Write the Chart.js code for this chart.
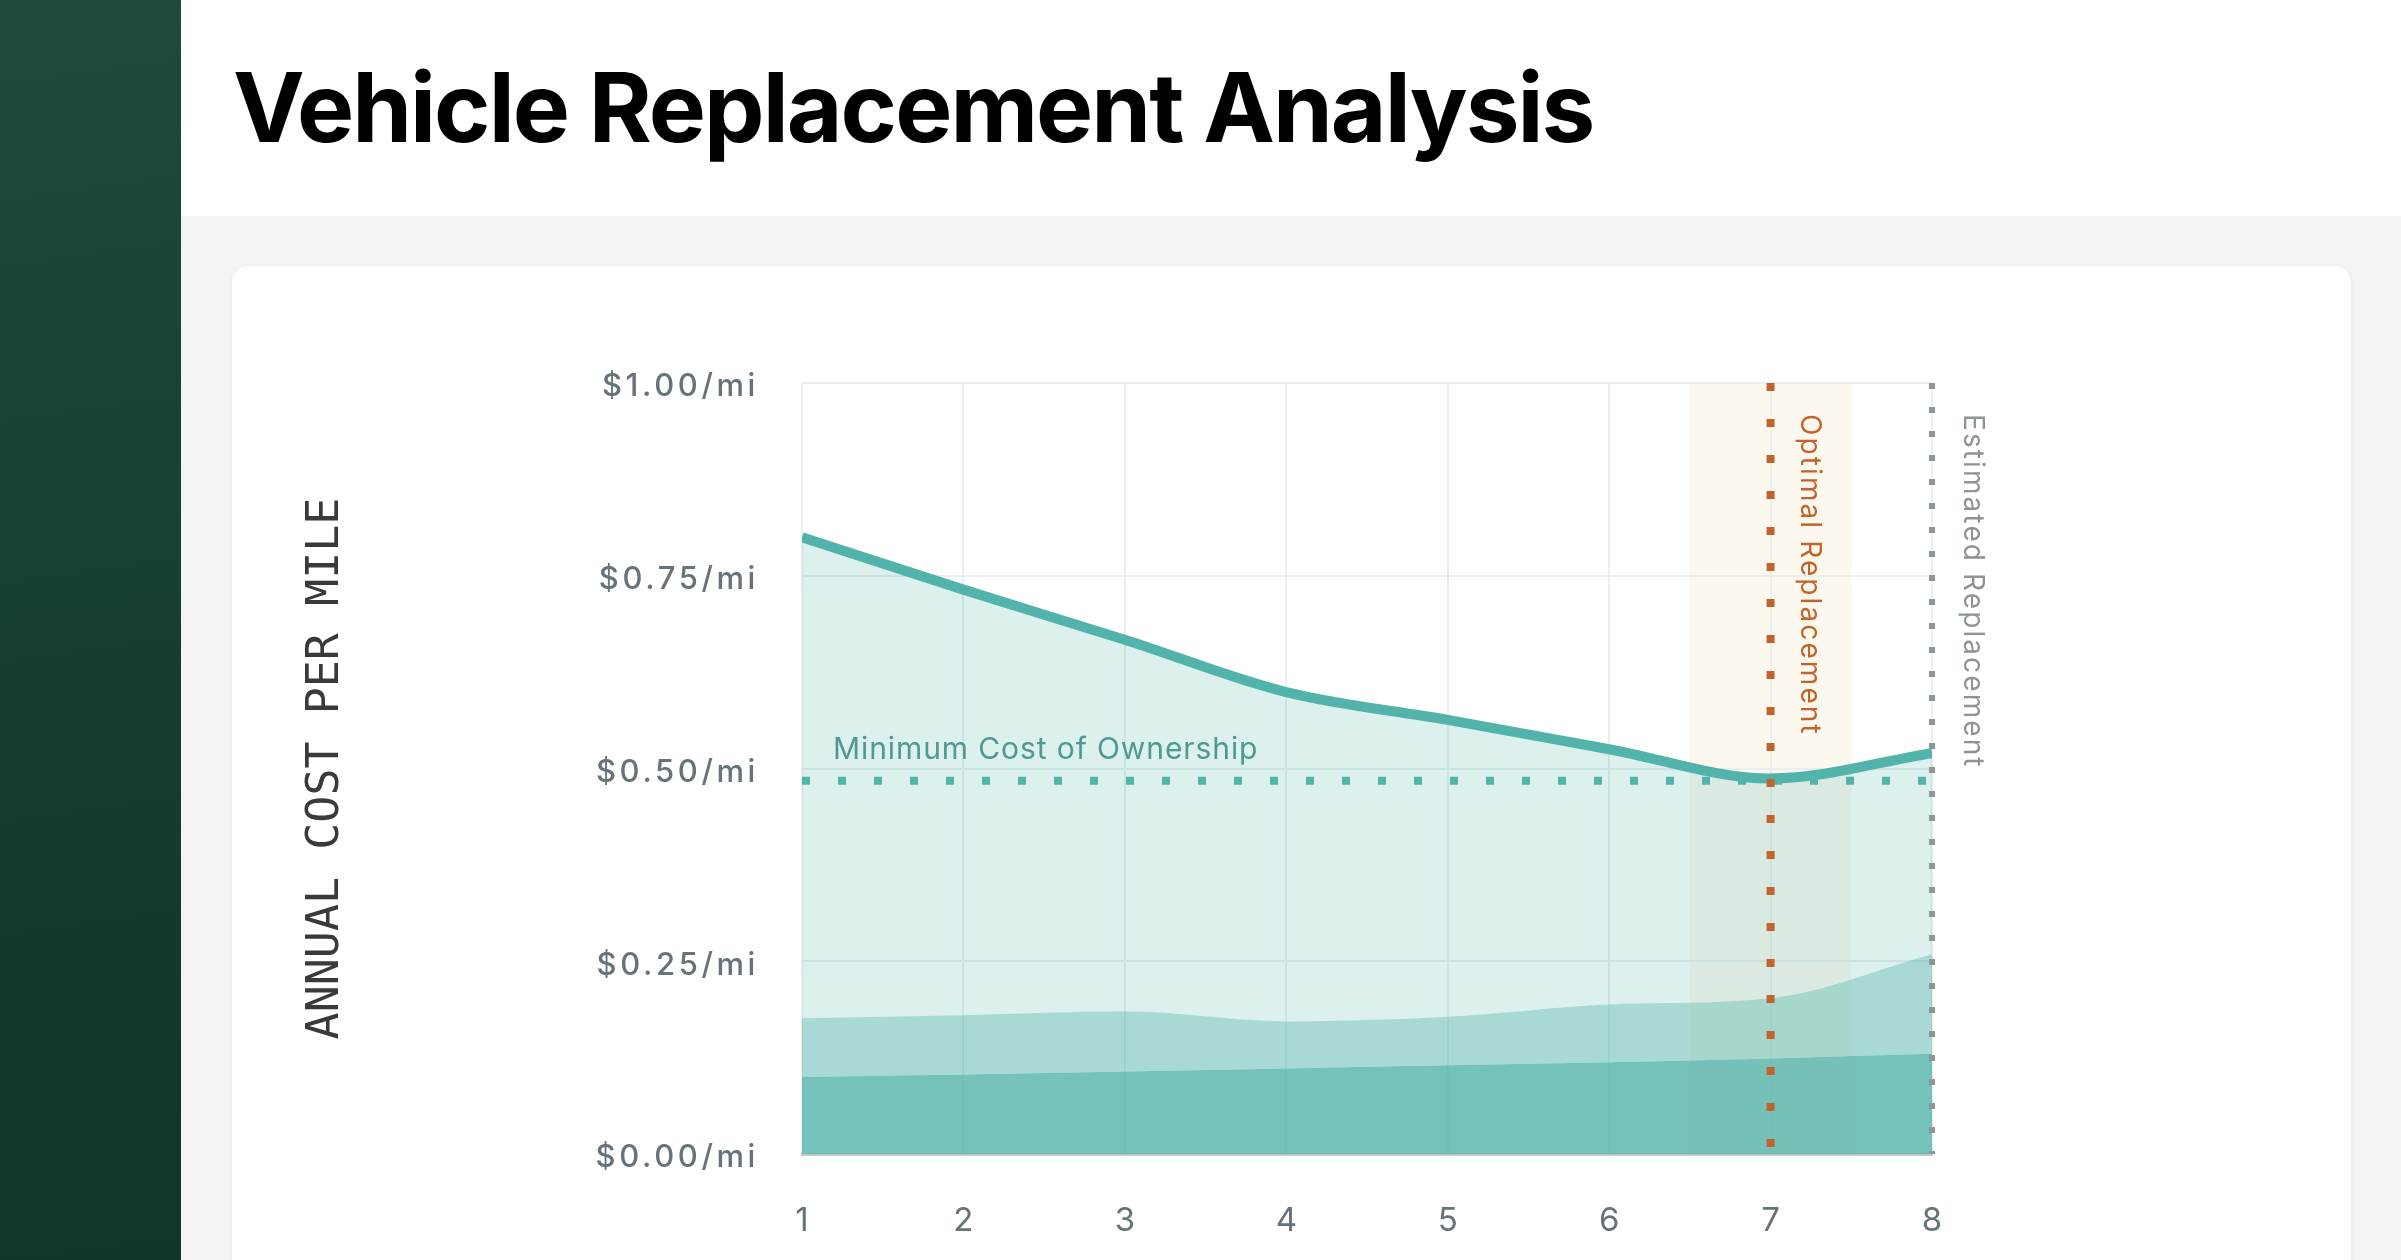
<!DOCTYPE html>
<html>
<head>
<meta charset="utf-8">
<script src="https://cdn.jsdelivr.net/npm/chart.js@4.4.1/dist/chart.umd.min.js"></script>
<style>
html,body{margin:0;padding:0;width:2401px;height:1260px;overflow:hidden;background:#f4f4f4;font-family:Inter,sans-serif;}
#sidebar{position:absolute;left:0;top:0;width:181px;height:1260px;background:linear-gradient(172deg,#1f4b3d 0%,#16402f 45%,#10352a 100%);}
#header{position:absolute;left:181px;top:0;right:0;height:216px;background:#fff;}
#title{position:absolute;left:233px;top:59px;margin:0;font:700 96px/1 Inter,sans-serif;letter-spacing:-0.02em;color:#000;white-space:nowrap;}
#card{position:absolute;left:232px;top:266px;width:2119px;height:1100px;background:#fff;border-radius:16px;box-shadow:0 1px 4px rgba(0,0,0,0.07);}
#chart{position:absolute;left:232px;top:266px;}
</style>
</head>
<body>
<div id="sidebar"></div>
<div id="header"></div>
<h1 id="title">Vehicle Replacement Analysis</h1>
<div id="card"></div>
<canvas id="chart" width="2119" height="994"></canvas>
<script>
// ---- data ----
const years = [1, 2, 3, 4, 5, 6, 7, 8];
const totalCost = [0.800, 0.732, 0.667, 0.599, 0.563, 0.525, 0.487, 0.520];
const operatingCost = [0.176, 0.180, 0.185, 0.172, 0.178, 0.194, 0.202, 0.259];
const fixedCost = [0.100, 0.103, 0.107, 0.111, 0.115, 0.119, 0.124, 0.130];
const yTickValues = [0, 0.25, 0.5, 0.75, 1.0];
const yTickLabels = ['$0.00/mi', '$0.25/mi', '$0.50/mi', '$0.75/mi', '$1.00/mi'];
const minimumCost = 0.484;
const optimalYear = 7;
const optimalBand = [6.5, 7.5];
const estimatedYear = 8;
const yAxisTitle = 'ANNUAL COST PER MILE';
const labelMinimum = 'Minimum Cost of Ownership';
const labelOptimal = 'Optimal Replacement';
const labelEstimated = 'Estimated Replacement';

const TEAL = '#52b3aa';
const ORANGE = '#c1632b';
const GRAYLINE = '#8f9699';
const TICK = '#66737a';

const pts = arr => years.map((v, i) => ({x: v, y: arr[i]}));

const tickStyle = {x: {spacing: '0px', dy: 0}, y: {spacing: '3.6px', dy: 4}};
const spacingPlugin = {
  id: 'spacing',
  beforeDraw(chart) {
    ['x', 'y'].forEach(id => {
      const s = chart.scales[id];
      if (!s || s._spPatched) return;
      const orig = s.drawLabels;
      s.drawLabels = function (area) {
        const ctx = this.ctx;
        ctx.save();
        ctx.letterSpacing = tickStyle[id].spacing;
        ctx.translate(0, tickStyle[id].dy);
        orig.call(this, area);
        ctx.restore();
      };
      s._spPatched = true;
    });
  }
};

const annotations = {
  id: 'annotations',
  beforeDraw(chart) {
    const {ctx, chartArea: a, scales: {x}} = chart;
    const x0 = x.getPixelForValue(optimalBand[0]);
    const x1 = x.getPixelForValue(optimalBand[1]);
    ctx.save();
    ctx.fillStyle = '#fdf8ee';
    ctx.fillRect(x0, a.top, x1 - x0, a.bottom - a.top);
    ctx.restore();
  },
  beforeDatasetsDraw(chart) {
    const {ctx, chartArea: a, scales: {y}} = chart;
    const ym = y.getPixelForValue(minimumCost);
    ctx.save();
    ctx.strokeStyle = TEAL;
    ctx.lineWidth = 8;
    ctx.setLineDash([8, 28]);
    ctx.beginPath();
    ctx.moveTo(a.left, ym);
    ctx.lineTo(a.right, ym);
    ctx.stroke();
    ctx.restore();
  },
  afterDatasetsDraw(chart) {
    const {ctx, chartArea: a, scales: {x, y}} = chart;
    const xo = x.getPixelForValue(optimalYear);
    const xe = x.getPixelForValue(estimatedYear);
    const ym = y.getPixelForValue(minimumCost);
    ctx.save();
    ctx.strokeStyle = ORANGE;
    ctx.lineWidth = 8;
    ctx.setLineDash([8, 28]);
    ctx.beginPath();
    ctx.moveTo(xo, a.top);
    ctx.lineTo(xo, a.bottom);
    ctx.stroke();
    ctx.strokeStyle = GRAYLINE;
    ctx.lineWidth = 6;
    ctx.setLineDash([6, 18]);
    ctx.beginPath();
    ctx.moveTo(xe, a.top);
    ctx.lineTo(xe, a.bottom);
    ctx.stroke();
    ctx.setLineDash([]);
    ctx.font = '30px Inter, sans-serif';
    ctx.letterSpacing = '0.9px';
    ctx.fillStyle = '#4f9990';
    ctx.textAlign = 'left';
    ctx.textBaseline = 'alphabetic';
    ctx.fillText(labelMinimum, a.left + 31, ym - 22);
    ctx.font = '28px Inter, sans-serif';
    ctx.letterSpacing = '2.1px';
    ctx.textBaseline = 'middle';
    ctx.save();
    ctx.translate(xo + 39, a.top + 31);
    ctx.rotate(Math.PI / 2);
    ctx.fillStyle = ORANGE;
    ctx.fillText(labelOptimal, 0, 0);
    ctx.restore();
    ctx.save();
    ctx.translate(xe + 40, a.top + 31);
    ctx.rotate(Math.PI / 2);
    ctx.fillStyle = '#8b9497';
    ctx.fillText(labelEstimated, 0, 0);
    ctx.restore();
    ctx.restore();
  }
};

new Chart(document.getElementById('chart'), {
  type: 'line',
  data: {
    datasets: [
      {label: 'Fixed', data: pts(fixedCost), fill: 'origin', backgroundColor: 'rgba(82,179,170,0.8)',
       borderWidth: 0, pointRadius: 0, cubicInterpolationMode: 'monotone', order: 1},
      {label: 'Operating', data: pts(operatingCost), fill: '-1', backgroundColor: 'rgba(82,179,170,0.5)',
       borderWidth: 0, pointRadius: 0, cubicInterpolationMode: 'monotone', order: 1},
      {label: 'Total', data: pts(totalCost), fill: '-1', backgroundColor: 'rgba(82,179,170,0.2)',
       borderColor: TEAL, borderWidth: 10, pointRadius: 0, cubicInterpolationMode: 'monotone', order: 0, clip: 0}
    ]
  },
  options: {
    responsive: false,
    animation: false,
    devicePixelRatio: 1,
    layout: {padding: {left: 0, top: 117, right: 419, bottom: 0}},
    plugins: {legend: {display: false}, tooltip: {enabled: false}},
    scales: {
      x: {
        type: 'linear', min: years[0], max: years[years.length - 1],
        ticks: {stepSize: 1, color: TICK, font: {family: 'Inter', size: 33}, padding: 47},
        grid: {color: '#eaeeee', lineWidth: 2, drawTicks: false},
        border: {color: '#c4c8c9', width: 3},
        afterFit(s) { s.height = 106; }
      },
      y: {
        min: yTickValues[0], max: yTickValues[yTickValues.length - 1],
        afterBuildTicks(s) { s.ticks = yTickValues.map(v => ({value: v})); },
        ticks: {
          color: TICK, font: {family: 'Inter', size: 31, weight: '500'}, padding: 43,
          callback: (v) => yTickLabels[yTickValues.indexOf(v)]
        },
        grid: {color: '#eaeeee', lineWidth: 2, drawTicks: false},
        border: {display: false},
        title: {display: true, text: yAxisTitle, color: '#3a3a3a',
                font: {family: 'DejaVu Sans Mono', size: 45}, padding: {top: 67, bottom: 0}},
        afterFit(s) { s.width = 570; }
      }
    }
  },
  plugins: [annotations, spacingPlugin]
});
</script>
</body>
</html>
